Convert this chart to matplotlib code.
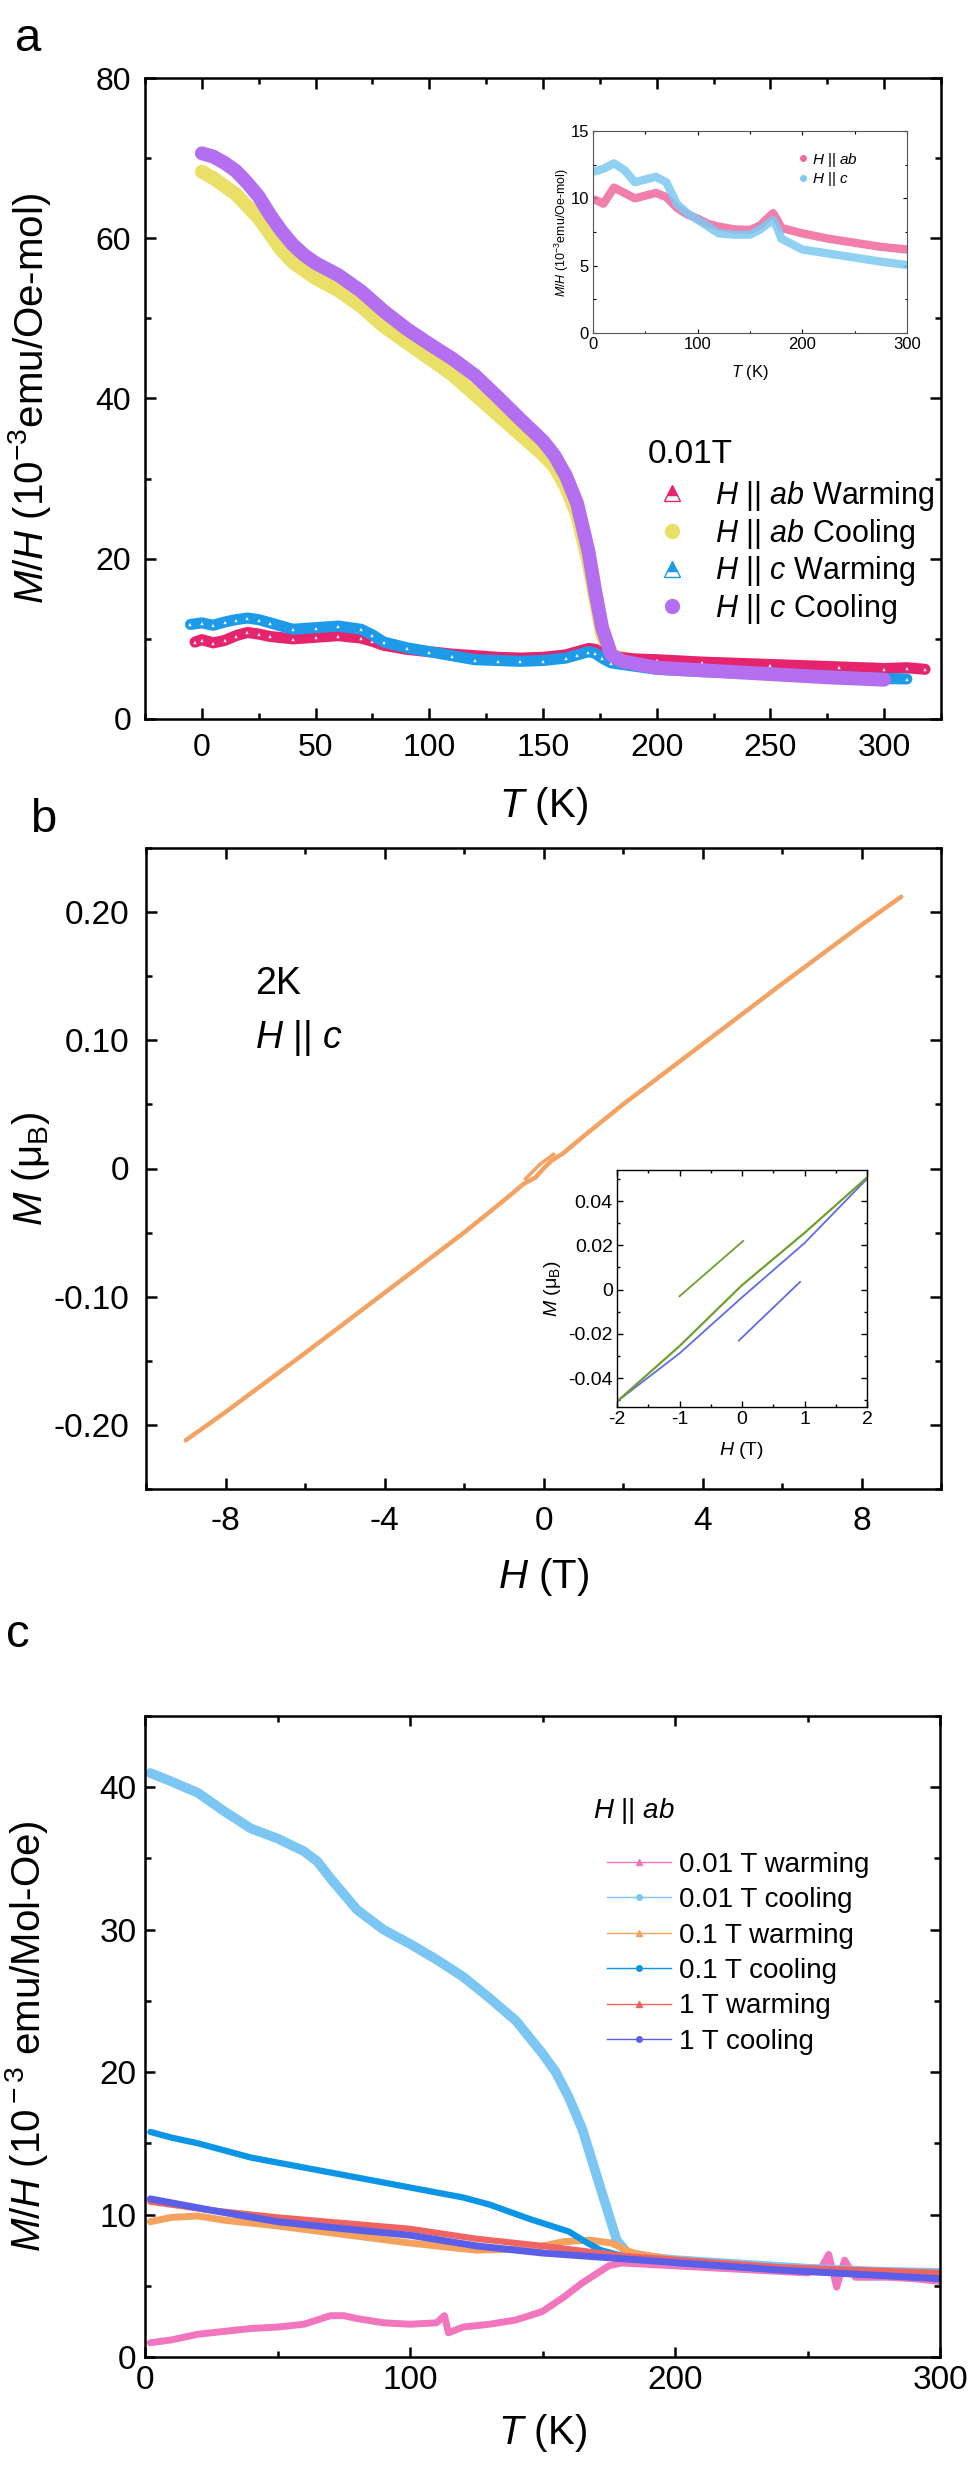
import matplotlib
matplotlib.use('Agg')
import matplotlib.pyplot as plt
from matplotlib.lines import Line2D
from matplotlib.ticker import MultipleLocator, FuncFormatter

plt.rcParams['font.family'] = ['Liberation Sans', 'DejaVu Sans']
plt.rcParams['mathtext.fontset'] = 'custom'
plt.rcParams['mathtext.rm'] = 'Liberation Sans'
plt.rcParams['mathtext.it'] = 'Liberation Sans:italic'
plt.rcParams['mathtext.bf'] = 'Liberation Sans:bold'
plt.rcParams['axes.unicode_minus'] = False

# ---------------- panel a : M/H vs T at 0.01 T ----------------
t_ab_warm = [-3, 0, 5, 10, 15, 20, 25, 30, 40, 50, 60, 70, 75, 80, 90, 100, 110, 120, 130, 140,
             150, 160, 165, 170, 173, 176, 180, 190, 200, 220, 250, 280, 300, 310, 318]
mh_ab_warm = [9.6, 9.9, 9.5, 9.8, 10.4, 10.8, 10.6, 10.3, 10.0, 10.2, 10.4, 10.1, 9.7, 9.2, 8.7, 8.4,
              8.1, 7.9, 7.7, 7.6, 7.7, 8.0, 8.4, 8.8, 8.7, 8.2, 7.8, 7.5, 7.4, 7.1, 6.8, 6.5, 6.3, 6.4, 6.2]
t_ab_cool = [0, 5, 10, 15, 20, 25, 30, 35, 40, 45, 50, 60, 70, 80, 90, 100, 110, 120, 130, 140,
             150, 155, 160, 165, 170, 173, 176, 180, 190, 200, 250, 300]
mh_ab_cool = [68.3, 67.5, 66.5, 65.5, 64.0, 62.5, 60.5, 58.5, 57.0, 56.0, 55.0, 53.5, 51.5, 49.0, 47.0,
              45.0, 43.0, 40.5, 38.0, 35.5, 33.0, 31.5, 29.0, 25.5, 19.5, 15.0, 10.5, 7.9, 7.3, 7.1, 6.6, 6.1]
t_c_warm = [-5, 0, 5, 10, 15, 20, 25, 30, 40, 50, 60, 70, 75, 80, 90, 100, 110, 120, 130, 140,
            150, 160, 165, 170, 173, 176, 180, 190, 200, 220, 250, 280, 300, 310]
mh_c_warm = [11.8, 12.0, 11.7, 12.1, 12.4, 12.6, 12.4, 12.0, 11.2, 11.4, 11.6, 11.2, 10.5, 9.6, 8.9, 8.4,
             7.9, 7.4, 7.3, 7.2, 7.3, 7.6, 8.0, 8.4, 8.2, 7.6, 7.0, 6.6, 6.2, 5.9, 5.6, 5.3, 5.05, 5.0]
t_c_cool = [0, 5, 10, 15, 20, 25, 30, 35, 40, 45, 50, 60, 70, 80, 90, 100, 110, 120, 130, 140,
            150, 155, 160, 165, 170, 173, 176, 180, 185, 200, 225, 250, 275, 300]
mh_c_cool = [70.6, 70.2, 69.4, 68.4, 66.9, 65.2, 62.9, 60.9, 59.2, 57.9, 56.9, 55.4, 53.4, 50.9, 48.7,
             46.8, 45.0, 42.9, 40.2, 37.4, 34.7, 32.9, 30.4, 26.9, 20.9, 15.9, 11.4, 8.0, 7.2, 6.4,
             6.0, 5.6, 5.2, 4.9]

# inset of panel a
t_inset = [2, 10, 20, 30, 40, 50, 60, 70, 80, 90, 100, 110, 120, 135, 150, 160, 165, 172, 176, 180,
           190, 200, 225, 250, 275, 300]
mh_inset_ab = [9.9, 9.6, 10.8, 10.4, 10.0, 10.2, 10.4, 10.1, 9.3, 8.8, 8.5, 8.1, 7.9, 7.7, 7.65, 8.0,
               8.4, 8.9, 8.4, 7.8, 7.6, 7.4, 7.0, 6.7, 6.4, 6.2]
mh_inset_c = [12.0, 12.2, 12.6, 12.1, 11.2, 11.4, 11.6, 11.2, 9.6, 8.9, 8.4, 7.9, 7.4, 7.3, 7.3, 7.7,
              8.0, 8.4, 7.8, 7.0, 6.6, 6.2, 5.9, 5.6, 5.3, 5.05]

# ---------------- panel b : M vs H at 2 K ----------------
h_main = [-9, -8, -6, -4, -2, -1, -0.5, -0.2, 0, 0.2, 0.5, 1, 2, 4, 6, 8, 9]
m_main = [-0.212, -0.190, -0.144, -0.097, -0.050, -0.025, -0.012, -0.007, 0.0, 0.006, 0.012, 0.025,
          0.050, 0.097, 0.144, 0.190, 0.212]
h_bump = [-0.45, -0.1, 0.25]
m_bump = [-0.008, 0.003, 0.011]
h_seg_up = [-1.0, 0.02]
m_seg_up = [-0.003, 0.022]
h_seg_dn = [-0.05, 0.93]
m_seg_dn = [-0.023, 0.0035]
# inset of panel b
h_in = [-2, -1, 0, 1, 2]
m_in_green = [-0.0505, -0.0255, 0.002, 0.0256, 0.0506]
m_in_blue = [-0.0505, -0.0288, -0.0035, 0.021, 0.0500]

# ---------------- panel c : M/H vs T, H || ab ----------------
t_001w = [2, 10, 20, 30, 40, 50, 60, 70, 75, 80, 90, 100, 110, 113, 114.5, 120, 130, 140, 150, 158,
          165, 170, 175, 180, 190, 200, 220, 240, 250, 255, 258, 261, 264, 268, 280, 290, 300]
mh_001w = [1.0, 1.2, 1.6, 1.8, 2.0, 2.1, 2.3, 2.9, 2.9, 2.7, 2.4, 2.3, 2.4, 2.9, 1.7, 2.1, 2.3, 2.6,
           3.2, 4.2, 5.2, 5.8, 6.4, 6.6, 6.5, 6.4, 6.2, 6.0, 5.9, 6.2, 7.2, 4.9, 6.8, 5.6, 5.6, 5.5, 5.3]
t_001c = [2, 10, 20, 30, 40, 50, 60, 65, 70, 80, 90, 100, 110, 120, 130, 140, 150, 155, 160, 165,
          170, 175, 178, 182, 190, 200, 225, 250, 275, 300]
mh_001c = [41.0, 40.4, 39.6, 38.3, 37.1, 36.4, 35.5, 34.8, 33.6, 31.4, 30.0, 29.0, 27.9, 26.7, 25.2,
           23.6, 21.3, 20.0, 18.2, 16.0, 13.0, 10.0, 8.2, 7.3, 7.0, 6.8, 6.5, 6.2, 6.0, 5.9]
t_01w = [2, 10, 20, 30, 50, 75, 100, 125, 145, 158, 168, 176, 184, 200, 225, 250, 275, 300]
mh_01w = [9.5, 9.8, 9.9, 9.6, 9.2, 8.6, 8.0, 7.5, 7.6, 8.1, 8.2, 8.0, 7.3, 6.8, 6.4, 6.1, 5.8, 5.6]
t_01c = [2, 10, 20, 40, 60, 80, 100, 120, 130, 145, 160, 167, 172, 180, 200, 250, 300]
mh_01c = [15.8, 15.4, 15.0, 14.0, 13.3, 12.6, 11.9, 11.2, 10.7, 9.7, 8.8, 8.0, 7.5, 7.1, 6.6, 6.0, 5.5]
t_1T = [2, 25, 50, 75, 100, 125, 150, 180, 210, 240, 270, 300]
mh_1w = [10.9, 10.3, 9.8, 9.4, 9.0, 8.3, 7.8, 7.1, 6.7, 6.3, 6.1, 5.9]
mh_1c = [11.1, 10.3, 9.5, 9.0, 8.55, 7.8, 7.3, 6.9, 6.5, 6.1, 5.8, 5.5]

labels_c = ['0.01 T warming', '0.01 T cooling', '0.1 T warming', '0.1 T cooling',
            '1 T warming', '1 T cooling']

PINK = '#E6246E'
YELLOW = '#EBE067'
BLUE = '#1E9BE8'
PURPLE = '#B46EF0'


def style(ax, lw, major_len, minor_len, fs, pad):
    for s in ax.spines.values():
        s.set_linewidth(lw)
    ax.tick_params(which='both', direction='in', top=True, right=True, width=lw,
                   labelsize=fs, pad=pad)
    ax.tick_params(which='major', length=major_len)
    ax.tick_params(which='minor', length=minor_len)


def fmt_zero(fmt):
    return FuncFormatter(lambda v, p: '0' if abs(v) < 1e-9 else fmt % v)


W, H = 975, 2469
fig = plt.figure(figsize=(W / 100, H / 100), dpi=100)


def box(x0, y0, x1, y1):
    return [x0 / W, 1 - y1 / H, (x1 - x0) / W, (y1 - y0) / H]


# ================= panel a =================
ax = fig.add_axes(box(145, 78, 941, 719))
ax.plot(t_ab_cool, mh_ab_cool, '-', color=YELLOW, lw=10, solid_capstyle='round', zorder=2)
ax.plot(t_ab_warm, mh_ab_warm, '-', color=PINK, lw=8, solid_capstyle='round', zorder=3)
ax.plot(t_ab_warm, mh_ab_warm, '^', color=PINK, mfc='white', ms=5, mew=1.2, zorder=3)
ax.plot(t_c_warm, mh_c_warm, '-', color=BLUE, lw=8, solid_capstyle='round', zorder=4)
ax.plot(t_c_warm, mh_c_warm, '^', color=BLUE, mfc='white', ms=5, mew=1.2, zorder=4)
ax.plot(t_c_cool, mh_c_cool, '-', color=PURPLE, lw=10, solid_capstyle='round', zorder=5)
ax.set_xlim(-25, 325)
ax.set_ylim(0, 80)
ax.xaxis.set_major_locator(MultipleLocator(50))
ax.xaxis.set_minor_locator(MultipleLocator(25))
ax.yaxis.set_major_locator(MultipleLocator(20))
ax.yaxis.set_minor_locator(MultipleLocator(10))
style(ax, 1.8, 8, 4.5, 23, 10)
ax.set_xlabel(r'$T$ (K)', fontsize=29)
ax.set_ylabel(r'$M/H$ (10$^{-3}$emu/Oe-mol)', fontsize=29)
ax.xaxis.set_label_coords(0.5, -0.103)
ax.yaxis.set_label_coords(-0.116, 0.5)

ax.text(0.632, 0.413, '0.01T', transform=ax.transAxes, fontsize=24, va='center')
hand_a = [Line2D([], [], ls='none', marker='^', ms=11, color=PINK, mfc=PINK,
                 markerfacecoloralt='white', fillstyle='top'),
          Line2D([], [], ls='none', marker='o', ms=10, color=YELLOW),
          Line2D([], [], ls='none', marker='^', ms=11, color=BLUE, mfc=BLUE,
                 markerfacecoloralt='white', fillstyle='top'),
          Line2D([], [], ls='none', marker='o', ms=10, color=PURPLE)]
lab_a = [r'$H$ || $ab$ Warming', r'$H$ || $ab$ Cooling', r'$H$ || $c$ Warming', r'$H$ || $c$ Cooling']
ax.legend(hand_a, lab_a, loc='upper left', bbox_to_anchor=(0.624, 0.398),
          frameon=False, fontsize=22, handlelength=1.0,
          handletextpad=0.9, labelspacing=0.12, borderpad=0)

# inset a
axi = fig.add_axes(box(593, 131, 907, 333))
axi.plot(t_inset, mh_inset_ab, '-', color='#F0689E', lw=6, alpha=0.85, solid_capstyle='round')
axi.plot(t_inset, mh_inset_c, '-', color='#7DC9F2', lw=6, alpha=0.85, solid_capstyle='round')
axi.set_xlim(0, 300)
axi.set_ylim(0, 15)
axi.xaxis.set_major_locator(MultipleLocator(100))
axi.xaxis.set_minor_locator(MultipleLocator(50))
axi.yaxis.set_major_locator(MultipleLocator(5))
axi.yaxis.set_minor_locator(MultipleLocator(2.5))
style(axi, 0.8, 3, 1.8, 12, 3)
for s in axi.spines.values():
    s.set_color('#555555')
axi.set_xlabel(r'$T$ (K)', fontsize=12)
axi.set_ylabel(r'$M/H$ (10$^{-3}$emu/Oe-mol)', fontsize=9)
axi.xaxis.set_label_coords(0.5, -0.15)
axi.yaxis.set_label_coords(-0.07, 0.5)
hand_i = [Line2D([], [], ls='none', marker='o', ms=4, color='#F0689E'),
          Line2D([], [], ls='none', marker='o', ms=4, color='#7DC9F2')]
axi.legend(hand_i, [r'$H$ || $ab$', r'$H$ || $c$'], loc='upper left', bbox_to_anchor=(0.63, 0.94),
           frameon=False, fontsize=11, handlelength=0.6, handletextpad=0.3, labelspacing=0.1,
           borderpad=0)

# ================= panel b =================
ORANGE = '#F4A261'
bx = fig.add_axes(box(146, 848, 941, 1489))
bx.plot(h_main, m_main, '-', color=ORANGE, lw=3.2, solid_capstyle='round')
bx.plot(h_bump, m_bump, '-', color=ORANGE, lw=2.5)
bx.set_xlim(-10, 10)
bx.set_ylim(-0.25, 0.25)
bx.xaxis.set_major_locator(MultipleLocator(4))
bx.xaxis.set_minor_locator(MultipleLocator(2))
bx.yaxis.set_major_locator(MultipleLocator(0.1))
bx.yaxis.set_minor_locator(MultipleLocator(0.05))
bx.yaxis.set_major_formatter(fmt_zero('%.2f'))
bx.xaxis.set_major_formatter(fmt_zero('%d'))
style(bx, 1.8, 8, 4.5, 24, 12)
bx.set_xlabel(r'$H$ (T)', fontsize=29)
bx.set_ylabel(r'$M$ (μ$_{\rm B}$)', fontsize=29)
bx.xaxis.set_label_coords(0.5, -0.104)
bx.yaxis.set_label_coords(-0.118, 0.5)
bx.text(0.137, 0.772, '2K', transform=bx.transAxes, fontsize=27, va='baseline')
bx.text(0.137, 0.688, r'$H$ || $c$', transform=bx.transAxes, fontsize=27, va='baseline')

# inset b
bxi = fig.add_axes(box(617, 1170, 867, 1407))
bxi.plot(h_in, m_in_blue, '-', color='#5E6CE6', lw=1.3)
bxi.plot(h_in, m_in_green, '-', color='#6FA02E', lw=1.6)
bxi.plot(h_seg_up, m_seg_up, '-', color='#6FA02E', lw=1.3)
bxi.plot(h_seg_dn, m_seg_dn, '-', color='#5E6CE6', lw=1.3)
bxi.set_xlim(-2, 2)
bxi.set_ylim(-0.053, 0.054)
bxi.xaxis.set_major_locator(MultipleLocator(1))
bxi.xaxis.set_minor_locator(MultipleLocator(0.5))
bxi.yaxis.set_major_locator(MultipleLocator(0.02))
bxi.yaxis.set_minor_locator(MultipleLocator(0.01))
bxi.yaxis.set_major_formatter(fmt_zero('%.2f'))
bxi.xaxis.set_major_formatter(fmt_zero('%d'))
style(bxi, 1.0, 4, 2.2, 14, 3)
bxi.set_xlabel(r'$H$ (T)', fontsize=14)
bxi.set_ylabel(r'$M$ (μ$_{\rm B}$)', fontsize=14)
bxi.xaxis.set_label_coords(0.5, -0.14)
bxi.yaxis.set_label_coords(-0.216, 0.5)

# ================= panel c =================
cols_c = ['#F276BE', '#7CC6F4', '#F5A25E', '#0A95E6', '#EF6461', '#5B5FE8']
marks_c = ['^', 'o', '^', 'o', '^', 'o']
cx = fig.add_axes(box(145, 1716, 940, 2357))
cx.plot(t_001w, mh_001w, '-', color=cols_c[0], lw=5, solid_capstyle='round')
cx.plot(t_001c, mh_001c, '-', color=cols_c[1], lw=7, solid_capstyle='round')
cx.plot(t_01w, mh_01w, '-', color=cols_c[2], lw=5, solid_capstyle='round')
cx.plot(t_01c, mh_01c, '-', color=cols_c[3], lw=4.5, solid_capstyle='round')
cx.plot(t_1T, mh_1w, '-', color=cols_c[4], lw=4.5, solid_capstyle='round')
cx.plot(t_1T, mh_1c, '-', color=cols_c[5], lw=5, solid_capstyle='round')
cx.set_xlim(0, 300)
cx.set_ylim(0, 45)
cx.xaxis.set_major_locator(MultipleLocator(100))
cx.xaxis.set_minor_locator(MultipleLocator(50))
cx.yaxis.set_major_locator(MultipleLocator(10))
cx.yaxis.set_minor_locator(MultipleLocator(5))
style(cx, 1.8, 7, 4, 24, 6)
cx.set_xlabel(r'$T$ (K)', fontsize=29)
cx.set_ylabel(r'$M/H$ (10$^{\rm -3}$ emu/Mol-Oe)', fontsize=29)
cx.xaxis.set_label_coords(0.5, -0.086)
cx.yaxis.set_label_coords(-0.12, 0.5)
cx.text(0.5635, 0.852, r'$H$ || $ab$', transform=cx.transAxes, fontsize=20, va='center')
hand_c = [Line2D([], [], color=c, lw=1.0, marker=m, ms=4) for c, m in zip(cols_c, marks_c)]
cx.legend(hand_c, labels_c, loc='upper left', bbox_to_anchor=(0.5635, 0.81), frameon=False,
          fontsize=20, handlelength=2.3, handletextpad=0.3, labelspacing=0.34, borderpad=0)

# panel letters
fig.text(15 / W, 1 - 51 / H, 'a', fontsize=34, va='baseline')
fig.text(30 / W, 1 - 832 / H, 'b', fontsize=34, va='baseline')
fig.text(6 / W, 1 - 1647 / H, 'c', fontsize=34, va='baseline')

fig.savefig('out.png', dpi=100)
